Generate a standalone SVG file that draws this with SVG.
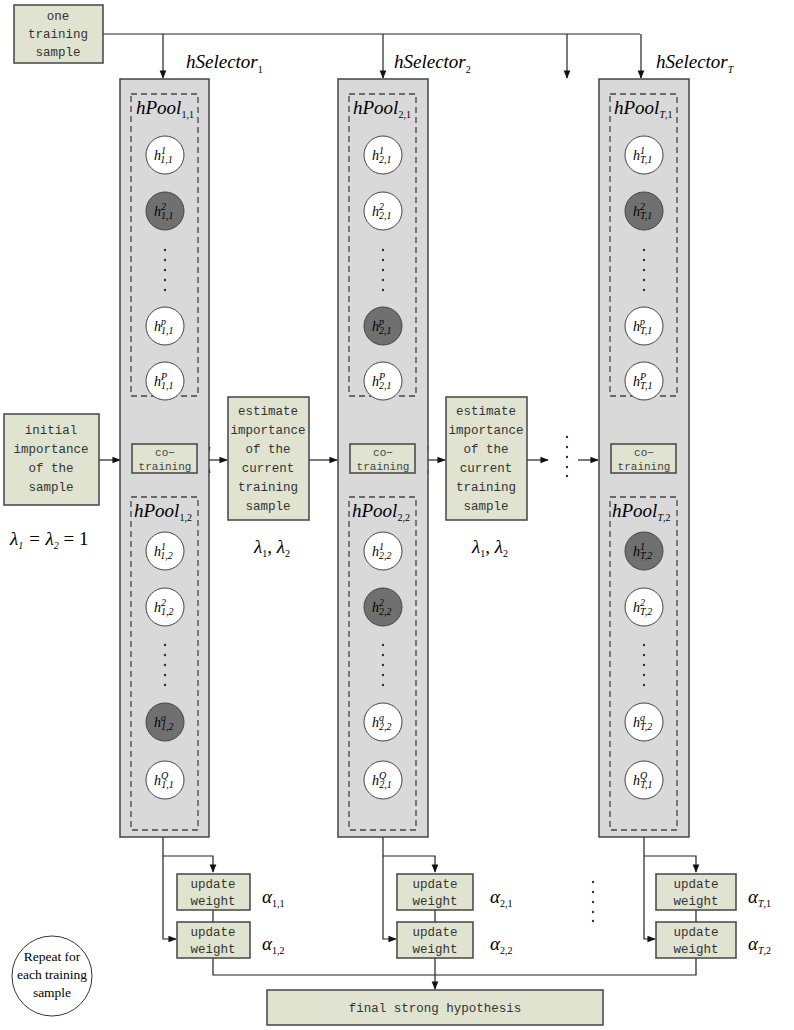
<svg xmlns="http://www.w3.org/2000/svg" width="794" height="1030" viewBox="0 0 794 1030">
<style>
.box{fill:#dfe3cf;stroke:#444;stroke-width:1.5}
.col{fill:#d9d9d9;stroke:#444;stroke-width:1.5}
.pool{fill:none;stroke:#444;stroke-width:1.3;stroke-dasharray:6,4}
.n{fill:#fff;stroke:#444;stroke-width:1}
.d{fill:#707070;stroke:#444;stroke-width:1}
.t{font-family:"Liberation Mono",monospace;font-size:12.5px;fill:#333;text-anchor:middle}
.ts{font-family:"Liberation Mono",monospace;font-size:11px;fill:#444;text-anchor:middle}
.m{font-family:"Liberation Serif",serif;font-style:italic;font-size:19px;fill:#000}
.h{font-family:"Liberation Serif",serif;font-style:italic;font-size:14px;fill:#000}
.sm{font-size:10px}
.ln{fill:none;stroke:#222;stroke-width:1.2}
.dot{fill:#333}
</style>
<defs>
<marker id="a" viewBox="0 0 10 10" refX="9" refY="5" markerWidth="7" markerHeight="7" orient="auto-start-reverse"><path d="M0,1 L10,5 L0,9 z" fill="#111"/></marker>
</defs>

<g id="connectors">
<path class="ln" d="M103,34 H640"/>
<path class="ln" d="M163,34 V78" marker-end="url(#a)"/>
<path class="ln" d="M383,34 V78" marker-end="url(#a)"/>
<path class="ln" d="M567,34 V78" marker-end="url(#a)"/>
<path class="ln" d="M641,34 V78" marker-end="url(#a)"/>
<path class="ln" d="M99,460 H120" marker-end="url(#a)"/>
<path class="ln" d="M209,460 H227" marker-end="url(#a)"/>
<path class="ln" d="M309,460 H337" marker-end="url(#a)"/>
<path class="ln" d="M428,460 H445" marker-end="url(#a)"/>
<path class="ln" d="M527,460 H548" marker-end="url(#a)"/>
<path class="ln" d="M578,460 H598" marker-end="url(#a)"/>
<!-- col1 internal -->
<path class="ln" d="M121,460 L147,219" marker-end="url(#a)"/>
<path class="ln" d="M183,215 L208,455" marker-end="url(#a)"/>
<path class="ln" d="M121,460 L147,717" marker-end="url(#a)"/>
<path class="ln" d="M183,720 L208,465" marker-end="url(#a)"/>
<!-- col2 internal -->
<path class="ln" d="M339,460 L365,333" marker-end="url(#a)"/>
<path class="ln" d="M401,330 L427,455" marker-end="url(#a)"/>
<path class="ln" d="M339,460 L365,603" marker-end="url(#a)"/>
<path class="ln" d="M401,605 L427,465" marker-end="url(#a)"/>
<!-- colT internal -->
<path class="ln" d="M600,460 L626,219" marker-end="url(#a)"/>
<path class="ln" d="M600,460 L626,548" marker-end="url(#a)"/>
<!-- co-training arrows -->
<path class="ln" d="M165,426 V442" marker-start="url(#a)" marker-end="url(#a)"/>
<path class="ln" d="M165,475 V494" marker-start="url(#a)" marker-end="url(#a)"/>
<path class="ln" d="M383,426 V442" marker-start="url(#a)" marker-end="url(#a)"/>
<path class="ln" d="M383,475 V494" marker-start="url(#a)" marker-end="url(#a)"/>
<path class="ln" d="M644,426 V442" marker-start="url(#a)" marker-end="url(#a)"/>
<path class="ln" d="M644,475 V494" marker-start="url(#a)" marker-end="url(#a)"/>
<!-- bottom -->
<path class="ln" d="M163,837 V939 H176" marker-end="url(#a)"/>
<path class="ln" d="M163,856 H213 V872" marker-end="url(#a)"/>
<path class="ln" d="M383,837 V939 H396" marker-end="url(#a)"/>
<path class="ln" d="M383,856 H435 V872" marker-end="url(#a)"/>
<path class="ln" d="M644,837 V939 H655" marker-end="url(#a)"/>
<path class="ln" d="M644,856 H696 V872" marker-end="url(#a)"/>
<path class="ln" d="M213,910 V922 M435,910 V922 M696,910 V922"/>
<path class="ln" d="M213,958 V975 H696 V958 M435,958 V975"/>
<path class="ln" d="M435,975 V989" marker-end="url(#a)"/>
</g>

<g id="sample"><rect class="box" x="14" y="5" width="89" height="58"/>
<text class="t" x="58" y="20">one</text><text class="t" x="58" y="38">training</text><text class="t" x="58" y="56">sample</text></g>

<g id="initial"><rect class="box" x="4" y="414" width="95" height="91"/>
<text class="t" x="51" y="434">initial</text><text class="t" x="51" y="453">importance</text><text class="t" x="51" y="472">of the</text><text class="t" x="51" y="491">sample</text></g>
<text class="m" x="10" y="545">λ<tspan class="sm" dy="4">1</tspan><tspan dy="-4"> = λ</tspan><tspan class="sm" dy="4">2</tspan><tspan dy="-4" font-style="normal"> = 1</tspan></text>

<g id="col1">
<rect class="col" x="120" y="79" width="89" height="758"/>
<rect class="pool" x="131" y="94" width="67" height="302"/>
<rect class="pool" x="131" y="497" width="67" height="333"/>
<text class="m" x="136" y="114">hPool<tspan class="sm" dy="4" font-style="normal">1,1</tspan></text>
<text class="m" x="134" y="517">hPool<tspan class="sm" dy="4" font-style="normal">1,2</tspan></text>
<rect class="box" x="132" y="444" width="65" height="29" stroke-width="1"/>
<text class="ts" x="165" y="456">co−</text><text class="ts" x="165" y="470">training</text>
<circle class="n" cx="165" cy="155" r="19"/><circle class="d" cx="165" cy="211" r="19"/>
<circle class="n" cx="165" cy="326" r="19"/><circle class="n" cx="165" cy="381" r="19"/>
<circle class="n" cx="165" cy="551" r="19"/><circle class="n" cx="165" cy="607" r="19"/>
<circle class="d" cx="165" cy="722" r="19"/><circle class="n" cx="165" cy="780" r="19"/>
<text class="h" x="154" y="160">h<tspan class="sm" dy="-6">1</tspan><tspan class="sm" dx="-5" dy="9">1,1</tspan></text>
<text class="h" x="154" y="216">h<tspan class="sm" dy="-6">2</tspan><tspan class="sm" dx="-5" dy="9">1,1</tspan></text>
<text class="h" x="154" y="331">h<tspan class="sm" dy="-6">p</tspan><tspan class="sm" dx="-5" dy="9">1,1</tspan></text>
<text class="h" x="154" y="386">h<tspan class="sm" dy="-6">P</tspan><tspan class="sm" dx="-6" dy="9">1,1</tspan></text>
<text class="h" x="154" y="556">h<tspan class="sm" dy="-6">1</tspan><tspan class="sm" dx="-5" dy="9">1,2</tspan></text>
<text class="h" x="154" y="612">h<tspan class="sm" dy="-6">2</tspan><tspan class="sm" dx="-5" dy="9">1,2</tspan></text>
<text class="h" x="154" y="727">h<tspan class="sm" dy="-6">q</tspan><tspan class="sm" dx="-5" dy="9">1,2</tspan></text>
<text class="h" x="154" y="785">h<tspan class="sm" dy="-6">Q</tspan><tspan class="sm" dx="-7" dy="9">1,1</tspan></text>
<g class="dot"><circle cx="165" cy="250" r="1.2"/><circle cx="165" cy="260" r="1.2"/><circle cx="165" cy="270" r="1.2"/><circle cx="165" cy="280" r="1.2"/><circle cx="165" cy="290" r="1.2"/>
<circle cx="165" cy="645" r="1.2"/><circle cx="165" cy="655" r="1.2"/><circle cx="165" cy="665" r="1.2"/><circle cx="165" cy="675" r="1.2"/><circle cx="165" cy="685" r="1.2"/></g>
</g>
<text class="m" x="186" y="68">hSelector<tspan class="sm" dy="5" font-style="normal">1</tspan></text>

<g id="col2">
<rect class="col" x="338" y="79" width="90" height="758"/>
<rect class="pool" x="349" y="94" width="67" height="302"/>
<rect class="pool" x="349" y="497" width="67" height="333"/>
<text class="m" x="353" y="114">hPool<tspan class="sm" dy="4" font-style="normal">2,1</tspan></text>
<text class="m" x="352" y="517">hPool<tspan class="sm" dy="4" font-style="normal">2,2</tspan></text>
<rect class="box" x="350" y="444" width="65" height="29" stroke-width="1"/>
<text class="ts" x="383" y="456">co−</text><text class="ts" x="383" y="470">training</text>
<circle class="n" cx="383" cy="155" r="19"/><circle class="n" cx="383" cy="211" r="19"/>
<circle class="d" cx="383" cy="326" r="19"/><circle class="n" cx="383" cy="381" r="19"/>
<circle class="n" cx="383" cy="551" r="19"/><circle class="d" cx="383" cy="607" r="19"/>
<circle class="n" cx="383" cy="722" r="19"/><circle class="n" cx="383" cy="780" r="19"/>
<text class="h" x="372" y="160">h<tspan class="sm" dy="-6">1</tspan><tspan class="sm" dx="-5" dy="9">2,1</tspan></text>
<text class="h" x="372" y="216">h<tspan class="sm" dy="-6">2</tspan><tspan class="sm" dx="-5" dy="9">2,1</tspan></text>
<text class="h" x="372" y="331">h<tspan class="sm" dy="-6">p</tspan><tspan class="sm" dx="-5" dy="9">2,1</tspan></text>
<text class="h" x="372" y="386">h<tspan class="sm" dy="-6">P</tspan><tspan class="sm" dx="-6" dy="9">2,1</tspan></text>
<text class="h" x="372" y="556">h<tspan class="sm" dy="-6">1</tspan><tspan class="sm" dx="-5" dy="9">2,2</tspan></text>
<text class="h" x="372" y="612">h<tspan class="sm" dy="-6">2</tspan><tspan class="sm" dx="-5" dy="9">2,2</tspan></text>
<text class="h" x="372" y="727">h<tspan class="sm" dy="-6">q</tspan><tspan class="sm" dx="-5" dy="9">2,2</tspan></text>
<text class="h" x="372" y="785">h<tspan class="sm" dy="-6">Q</tspan><tspan class="sm" dx="-7" dy="9">2,1</tspan></text>
<g class="dot"><circle cx="383" cy="250" r="1.2"/><circle cx="383" cy="260" r="1.2"/><circle cx="383" cy="270" r="1.2"/><circle cx="383" cy="280" r="1.2"/><circle cx="383" cy="290" r="1.2"/>
<circle cx="383" cy="645" r="1.2"/><circle cx="383" cy="655" r="1.2"/><circle cx="383" cy="665" r="1.2"/><circle cx="383" cy="675" r="1.2"/><circle cx="383" cy="685" r="1.2"/></g>
</g>
<text class="m" x="394" y="68">hSelector<tspan class="sm" dy="5" font-style="normal">2</tspan></text>

<g id="colT">
<rect class="col" x="599" y="79" width="90" height="758"/>
<rect class="pool" x="610" y="94" width="67" height="302"/>
<rect class="pool" x="610" y="497" width="67" height="333"/>
<text class="m" x="614" y="114">hPool<tspan class="sm" dy="4">T</tspan><tspan class="sm" font-style="normal">,1</tspan></text>
<text class="m" x="612" y="517">hPool<tspan class="sm" dy="4">T</tspan><tspan class="sm" font-style="normal">,2</tspan></text>
<rect class="box" x="611" y="444" width="65" height="29" stroke-width="1"/>
<text class="ts" x="644" y="456">co−</text><text class="ts" x="644" y="470">training</text>
<circle class="n" cx="644" cy="155" r="19"/><circle class="d" cx="644" cy="211" r="19"/>
<circle class="n" cx="644" cy="326" r="19"/><circle class="n" cx="644" cy="381" r="19"/>
<circle class="d" cx="644" cy="551" r="19"/><circle class="n" cx="644" cy="607" r="19"/>
<circle class="n" cx="644" cy="722" r="19"/><circle class="n" cx="644" cy="780" r="19"/>
<text class="h" x="633" y="160">h<tspan class="sm" dy="-6">1</tspan><tspan class="sm" dx="-5" dy="9">T,1</tspan></text>
<text class="h" x="633" y="216">h<tspan class="sm" dy="-6">2</tspan><tspan class="sm" dx="-5" dy="9">T,1</tspan></text>
<text class="h" x="633" y="331">h<tspan class="sm" dy="-6">p</tspan><tspan class="sm" dx="-5" dy="9">T,1</tspan></text>
<text class="h" x="633" y="386">h<tspan class="sm" dy="-6">P</tspan><tspan class="sm" dx="-6" dy="9">T,1</tspan></text>
<text class="h" x="633" y="556">h<tspan class="sm" dy="-6">1</tspan><tspan class="sm" dx="-5" dy="9">T,2</tspan></text>
<text class="h" x="633" y="612">h<tspan class="sm" dy="-6">2</tspan><tspan class="sm" dx="-5" dy="9">T,2</tspan></text>
<text class="h" x="633" y="727">h<tspan class="sm" dy="-6">q</tspan><tspan class="sm" dx="-5" dy="9">T,2</tspan></text>
<text class="h" x="633" y="785">h<tspan class="sm" dy="-6">Q</tspan><tspan class="sm" dx="-7" dy="9">T,1</tspan></text>
<g class="dot"><circle cx="644" cy="250" r="1.2"/><circle cx="644" cy="260" r="1.2"/><circle cx="644" cy="270" r="1.2"/><circle cx="644" cy="280" r="1.2"/><circle cx="644" cy="290" r="1.2"/>
<circle cx="644" cy="645" r="1.2"/><circle cx="644" cy="655" r="1.2"/><circle cx="644" cy="665" r="1.2"/><circle cx="644" cy="675" r="1.2"/><circle cx="644" cy="685" r="1.2"/></g>
</g>
<text class="m" x="656" y="68">hSelector<tspan class="sm" dy="5">T</tspan></text>

<g id="estimate1"><rect class="box" x="228" y="397" width="81" height="123"/>
<text class="t" x="268" y="415">estimate</text><text class="t" x="268" y="434">importance</text><text class="t" x="268" y="453">of the</text><text class="t" x="268" y="472">current</text><text class="t" x="268" y="491">training</text><text class="t" x="268" y="510">sample</text></g>
<text class="m" x="254" y="553">λ<tspan class="sm" dy="4" font-style="normal">1</tspan><tspan dy="-4" font-style="normal">, </tspan>λ<tspan class="sm" dy="4" font-style="normal">2</tspan></text>

<g id="estimate2"><rect class="box" x="446" y="397" width="81" height="123"/>
<text class="t" x="486" y="415">estimate</text><text class="t" x="486" y="434">importance</text><text class="t" x="486" y="453">of the</text><text class="t" x="486" y="472">current</text><text class="t" x="486" y="491">training</text><text class="t" x="486" y="510">sample</text></g>
<text class="m" x="472" y="553">λ<tspan class="sm" dy="4" font-style="normal">1</tspan><tspan dy="-4" font-style="normal">, </tspan>λ<tspan class="sm" dy="4" font-style="normal">2</tspan></text>

<g class="dot"><circle cx="567" cy="437" r="1.2"/><circle cx="567" cy="447" r="1.2"/><circle cx="567" cy="457" r="1.2"/><circle cx="567" cy="467" r="1.2"/><circle cx="567" cy="476" r="1.2"/>
<circle cx="593" cy="882" r="1.2"/><circle cx="593" cy="892" r="1.2"/><circle cx="593" cy="902" r="1.2"/><circle cx="593" cy="912" r="1.2"/><circle cx="593" cy="921" r="1.2"/></g>

<g id="uw11"><rect class="box" x="177" y="874" width="73" height="36"/><text class="t" x="213" y="888">update</text><text class="t" x="213" y="905">weight</text></g>
<g id="uw12"><rect class="box" x="177" y="922" width="73" height="36"/><text class="t" x="213" y="936">update</text><text class="t" x="213" y="953">weight</text></g>
<g id="uw21"><rect class="box" x="397" y="874" width="76" height="36"/><text class="t" x="435" y="888">update</text><text class="t" x="435" y="905">weight</text></g>
<g id="uw22"><rect class="box" x="397" y="922" width="76" height="36"/><text class="t" x="435" y="936">update</text><text class="t" x="435" y="953">weight</text></g>
<g id="uwT1"><rect class="box" x="656" y="874" width="80" height="36"/><text class="t" x="696" y="888">update</text><text class="t" x="696" y="905">weight</text></g>
<g id="uwT2"><rect class="box" x="656" y="922" width="80" height="36"/><text class="t" x="696" y="936">update</text><text class="t" x="696" y="953">weight</text></g>

<text class="m" x="262" y="903" font-size="22">α<tspan class="sm" dy="4" font-style="normal">1,1</tspan></text>
<text class="m" x="262" y="950" font-size="22">α<tspan class="sm" dy="4" font-style="normal">1,2</tspan></text>
<text class="m" x="490" y="903" font-size="22">α<tspan class="sm" dy="4" font-style="normal">2,1</tspan></text>
<text class="m" x="490" y="950" font-size="22">α<tspan class="sm" dy="4" font-style="normal">2,2</tspan></text>
<text class="m" x="748" y="903" font-size="22">α<tspan class="sm" dy="4">T</tspan><tspan class="sm" font-style="normal">,1</tspan></text>
<text class="m" x="748" y="950" font-size="22">α<tspan class="sm" dy="4">T</tspan><tspan class="sm" font-style="normal">,2</tspan></text>

<g id="final"><rect class="box" x="267" y="990" width="336" height="35"/><text class="t" x="435" y="1012">final strong hypothesis</text></g>

<g id="repeat"><circle cx="52" cy="976" r="40" fill="#fff" stroke="#333" stroke-width="1"/>
<text x="52" y="961" font-family="Liberation Serif,serif" font-size="13.5" text-anchor="middle">Repeat for</text>
<text x="52" y="979" font-family="Liberation Serif,serif" font-size="13.5" text-anchor="middle">each training</text>
<text x="52" y="997" font-family="Liberation Serif,serif" font-size="13.5" text-anchor="middle">sample</text></g>
</svg>
